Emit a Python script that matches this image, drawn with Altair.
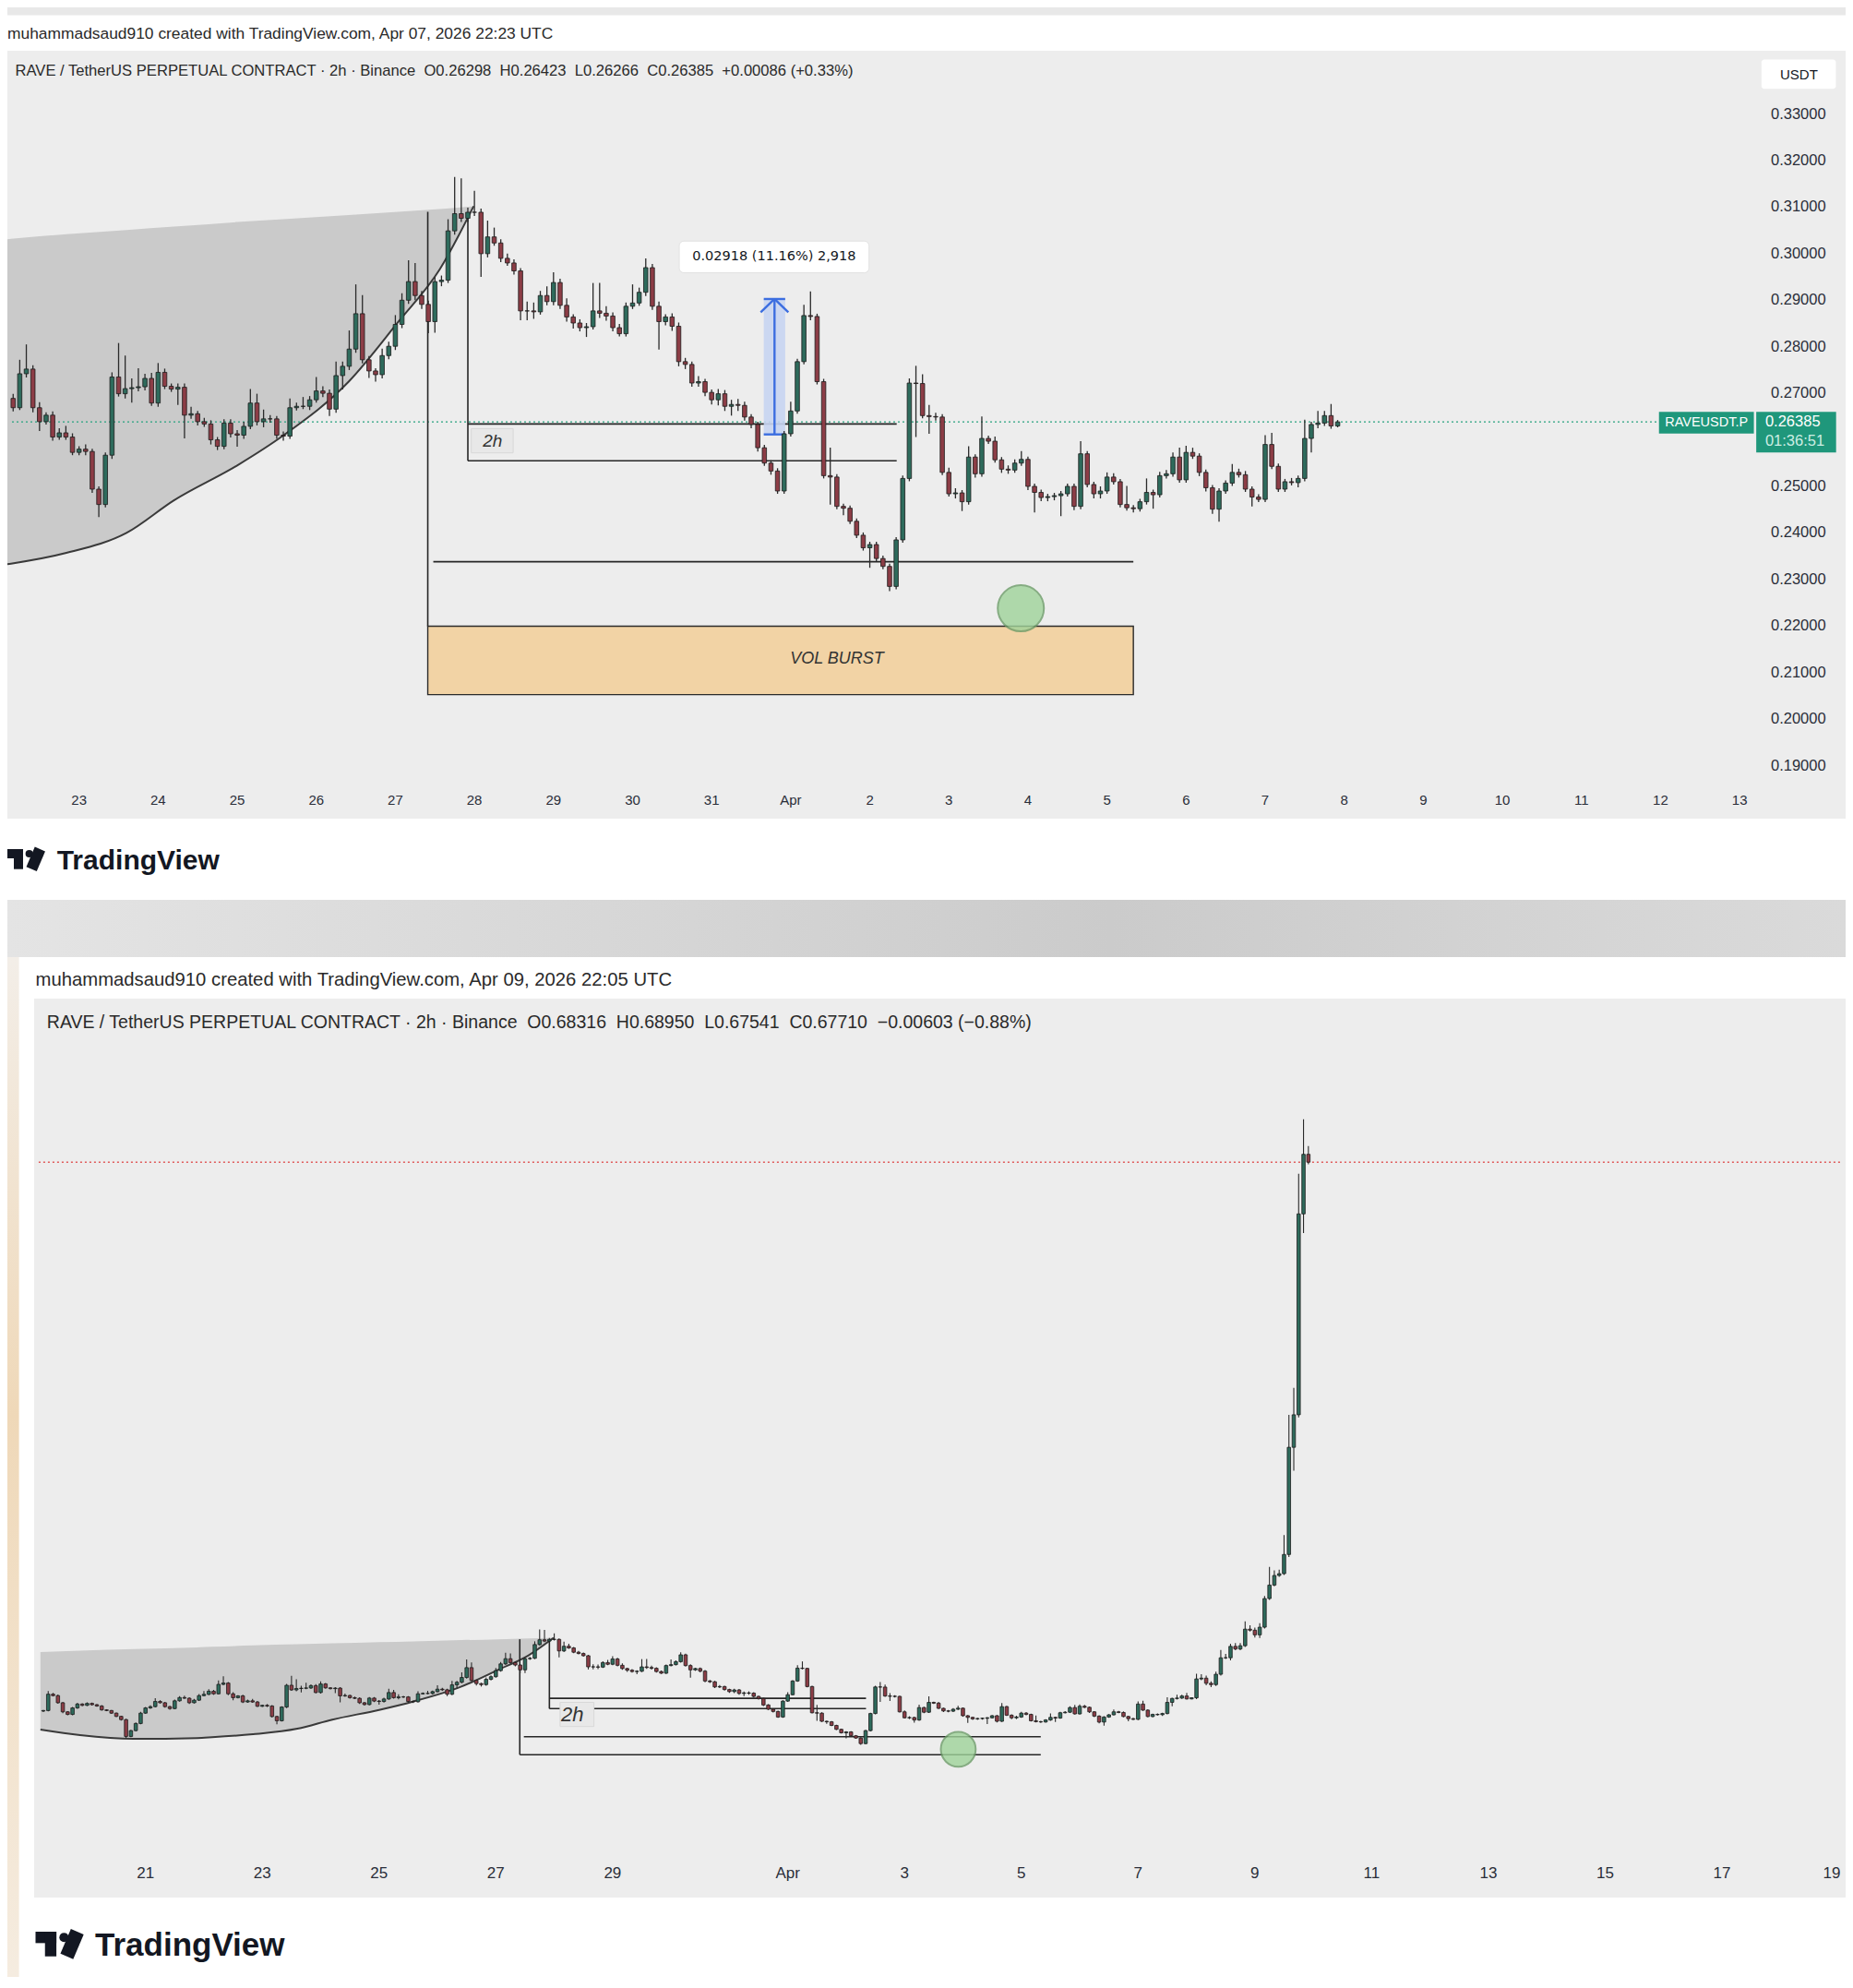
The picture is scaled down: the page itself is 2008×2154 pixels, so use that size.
import altair as alt
import pandas as pd

# page is 2008 x 2154 with an 8px body margin on every side
W, H = 1992, 2134

# ---------------- candle data (x = day of March, Apr 1 = 32; 2h bars, UTC) ----------------
START_T = 19.25          # first bar: Mar 19 06:00
STEP_T = 1.0 / 12.0
FIRST_OPEN = 0.2536

EARLY_CLOSE = [
    0.2540, 0.2666, 0.2655, 0.2600, 0.2530, 0.2510, 0.2560, 0.2590, 0.2580, 0.2595,
    0.2585, 0.2575, 0.2545, 0.2540, 0.2520, 0.2495, 0.2470, 0.2340, 0.2385, 0.2440,
    0.2520, 0.2560, 0.2570, 0.2610, 0.2600, 0.2570, 0.2555, 0.2615, 0.2640, 0.2635,
    0.2600, 0.2620, 0.2655, 0.2665, 0.2689]
EARLY_UP = [
    5, 25, 10, 8, 6, 6, 8, 10, 6, 8,
    6, 6, 6, 5, 5, 5, 5, 6, 6, 8,
    10, 8, 10, 25, 10, 6, 6, 10, 12, 15,
    8, 10, 12, 25, 15]
EARLY_DN = [
    8, 6, 6, 8, 10, 6, 6, 6, 8, 6,
    6, 6, 6, 5, 6, 6, 8, 15, 6, 6,
    6, 6, 6, 6, 6, 8, 8, 6, 6, 6,
    10, 6, 6, 6, 6]

MAIN_CLOSE = [
    0.2669, 0.2742, 0.2752, 0.2669, 0.2639, 0.2653, 0.2606, 0.2615, 0.2606, 0.2573,
    0.2580, 0.2575, 0.2494, 0.2461, 0.2567, 0.2735, 0.2699, 0.2710, 0.2712, 0.2714,
    0.2732, 0.2679, 0.2745, 0.2715, 0.2709, 0.2713, 0.2653, 0.2656, 0.2639, 0.2634,
    0.2600, 0.2586, 0.2636, 0.2613, 0.2610, 0.2629, 0.2679, 0.2639, 0.2645, 0.2645,
    0.2610, 0.2608, 0.2669, 0.2672, 0.2672, 0.2686, 0.2705, 0.2700, 0.2666, 0.2738,
    0.2758, 0.2795, 0.2871, 0.2772, 0.2748, 0.2740, 0.2781, 0.2801, 0.2848, 0.2900,
    0.2940, 0.2910, 0.2891, 0.2854, 0.2940, 0.2943, 0.3049, 0.3086, 0.3076, 0.3089,
    0.3089, 0.3000, 0.3036, 0.3023, 0.2990, 0.2980, 0.2963, 0.2877, 0.2877, 0.2875,
    0.2910, 0.2897, 0.2938, 0.2889, 0.2864, 0.2851, 0.2841, 0.2843, 0.2877, 0.2872,
    0.2866, 0.2841, 0.2828, 0.2887, 0.2894, 0.2917, 0.2970, 0.2887, 0.2854, 0.2864,
    0.2844, 0.2768, 0.2762, 0.2722, 0.2725, 0.2702, 0.2686, 0.2699, 0.2672, 0.2676,
    0.2674, 0.2649, 0.2633, 0.2583, 0.2550, 0.2533, 0.2490, 0.2613, 0.2662, 0.2768,
    0.2867, 0.2865, 0.2725, 0.2523, 0.2520, 0.2457, 0.2453, 0.2425, 0.2395, 0.2368,
    0.2375, 0.2345, 0.2328, 0.2285, 0.2385, 0.2517, 0.2722, 0.2721, 0.2652, 0.2650,
    0.2649, 0.2530, 0.2484, 0.2486, 0.2467, 0.2563, 0.2527, 0.2603, 0.2597, 0.2557,
    0.2537, 0.2535, 0.2550, 0.2558, 0.2500, 0.2487, 0.2476, 0.2478, 0.2480, 0.2484,
    0.2500, 0.2457, 0.2570, 0.2504, 0.2484, 0.2490, 0.2520, 0.2510, 0.2461, 0.2454,
    0.2452, 0.2467, 0.2487, 0.2482, 0.2523, 0.2527, 0.2563, 0.2514, 0.2573, 0.2565,
    0.2530, 0.2497, 0.2451, 0.2490, 0.2507, 0.2530, 0.2525, 0.2494, 0.2477, 0.2472,
    0.2590, 0.2543, 0.2494, 0.2510, 0.2508, 0.2517, 0.2603, 0.2633, 0.2636, 0.2652,
    0.26298, 0.26385]
MAIN_UP = [
    10, 30, 53, 8, 12, 6, 8, 10, 15, 8,
    6, 10, 6, 6, 6, 10, 73, 71, 20, 40,
    10, 12, 20, 8, 6, 8, 8, 15, 6, 8,
    8, 6, 8, 8, 8, 10, 30, 20, 20, 8,
    6, 8, 20, 8, 20, 8, 30, 10, 8, 30,
    10, 40, 63, 40, 8, 6, 15, 10, 20, 15,
    46, 40, 10, 8, 10, 10, 25, 79, 76, 10,
    46, 8, 35, 20, 8, 10, 8, 6, 20, 18,
    10, 20, 22, 8, 15, 6, 8, 8, 60, 60,
    15, 8, 8, 8, 40, 10, 20, 8, 10, 6,
    8, 8, 8, 6, 12, 6, 6, 10, 8, 10,
    12, 8, 6, 6, 6, 6, 6, 6, 20, 6,
    23, 52, 6, 6, 60, 6, 6, 6, 6, 6,
    6, 6, 6, 6, 6, 6, 10, 37, 20, 23,
    8, 6, 10, 10, 6, 23, 6, 47, 6, 10,
    6, 8, 8, 18, 6, 6, 6, 6, 6, 6,
    6, 6, 27, 6, 6, 10, 10, 8, 6, 40,
    6, 6, 30, 6, 8, 8, 10, 20, 14, 10,
    6, 6, 6, 6, 6, 18, 8, 8, 6, 6,
    20, 25, 6, 6, 8, 6, 40, 6, 26, 10,
    25, 4]
MAIN_DN = [
    8, 5, 8, 10, 20, 6, 8, 6, 6, 6,
    6, 8, 8, 27, 6, 8, 6, 10, 30, 8,
    8, 6, 8, 6, 6, 34, 50, 8, 8, 6,
    10, 8, 6, 8, 25, 8, 6, 8, 12, 8,
    8, 10, 6, 6, 6, 8, 6, 8, 15, 8,
    30, 8, 8, 8, 15, 15, 8, 8, 8, 8,
    8, 10, 10, 25, 24, 10, 6, 8, 8, 8,
    8, 50, 8, 6, 8, 6, 8, 20, 20, 15,
    6, 8, 8, 8, 10, 12, 8, 20, 6, 10,
    10, 8, 6, 6, 6, 6, 8, 8, 60, 8,
    10, 10, 10, 8, 8, 8, 10, 12, 10, 20,
    12, 8, 8, 8, 6, 8, 6, 6, 6, 6,
    6, 8, 6, 6, 59, 6, 15, 6, 6, 6,
    43, 6, 6, 10, 6, 6, 6, 115, 6, 37,
    8, 6, 6, 10, 20, 6, 8, 6, 6, 6,
    8, 8, 6, 6, 8, 43, 8, 8, 8, 44,
    6, 8, 6, 6, 10, 10, 6, 6, 6, 6,
    8, 6, 6, 30, 6, 6, 6, 6, 6, 6,
    8, 8, 10, 27, 6, 6, 6, 6, 20, 6,
    6, 6, 6, 6, 6, 10, 6, 30, 8, 6,
    6, 3]

LATE_CLOSE = [
    0.2784, 0.2790, 0.2750, 0.2740, 0.2820, 0.2947, 0.2947, 0.3035, 0.3015, 0.3040,
    0.3168, 0.3160, 0.3124, 0.3183, 0.3404, 0.3508, 0.3582, 0.3596, 0.3744, 0.4571,
    0.4822, 0.6372, 0.68316, 0.67710]
LATE_UP = [
    40, 30, 20, 15, 20, 60, 30, 20, 25, 20,
    60, 30, 20, 30, 20, 140, 40, 30, 150, 251,
    207, 310, 270, 63]
LATE_DN = [
    10, 10, 15, 20, 10, 10, 10, 20, 10, 10,
    10, 10, 20, 25, 10, 10, 10, 10, 10, 20,
    181, 20, 147, 17]

closes = EARLY_CLOSE + MAIN_CLOSE + LATE_CLOSE
ups = EARLY_UP + MAIN_UP + LATE_UP
dns = EARLY_DN + MAIN_DN + LATE_DN
recs = []
prev = FIRST_OPEN
for k, (c, u, d) in enumerate(zip(closes, ups, dns)):
    o = prev
    recs.append({"t": START_T + k * STEP_T, "o": o, "c": c,
                 "h": max(o, c) + u / 10000.0, "l": min(o, c) - d / 10000.0})
    prev = c
candles = pd.DataFrame(recs)
n0 = len(EARLY_CLOSE)
top_c = candles.iloc[n0:n0 + len(MAIN_CLOSE)].reset_index(drop=True)

# ---------------- drawings ----------------
BOWL_T = [19.20, 19.88, 20.80, 21.88, 22.14, 22.84, 23.60, 24.20, 25.00, 25.58, 26.41, 27.035, 27.56, 27.99]
BOWL_LO = [0.2393, 0.2350, 0.2322, 0.2328, 0.2334, 0.2357, 0.2400, 0.2470, 0.2545, 0.2609, 0.2725, 0.2853, 0.2966, 0.3102]
BOWL_HI = [0.2992, 0.3002, 0.3014, 0.3027, 0.3032, 0.3042, 0.3051, 0.3058, 0.3068, 0.3074, 0.3083, 0.3090, 0.3096, 0.3102]
bowl = pd.DataFrame({"t": BOWL_T, "lo": BOWL_LO, "hi": BOWL_HI})

LINE_T1 = [27.41, 27.48, 27.917, 27.917, 27.917]
LINE_T2 = [27.41, 36.333, 27.917, 33.34, 33.34]
LINE_P1 = [0.3090, 0.2338, 0.3082, 0.2634, 0.2555]
LINE_P2 = [0.21995, 0.2338, 0.2555, 0.2634, 0.2555]
lines = pd.DataFrame({"t1": LINE_T1, "t2": LINE_T2, "p1": LINE_P1, "p2": LINE_P2})
lines_bot = pd.DataFrame({"t1": LINE_T1 + [27.41], "t2": LINE_T2 + [36.333],
                          "p1": LINE_P1 + [0.21995], "p2": LINE_P2 + [0.21995]})

VOL_BOX = {"t1": [27.41], "t2": [36.333], "p1": [0.20524], "p2": [0.21995]}
VOL_LABEL = {"t": [32.585], "p": [0.2129], "s": ["VOL BURST"]}

MEAS_SHADE = {"t1": [31.659], "t2": [31.930], "p1": [0.26116], "p2": [0.29026]}
MEAS_T1 = [31.795, 31.659, 31.659, 31.795, 31.795]
MEAS_T2 = [31.795, 31.930, 31.930, 31.620, 31.970]
MEAS_P1 = [0.26116, 0.29026, 0.26116, 0.29026, 0.29026]
MEAS_P2 = [0.29026, 0.29026, 0.26116, 0.28740, 0.28740]
MEAS_BOX = {"t1": [30.59], "t2": [32.99], "p1": [0.2959], "p2": [0.3027]}
MEAS_LABEL = {"t": [31.79], "p": [0.2993], "s": ["0.02918 (11.16%) 2,918"]}

CIRCLE_TOP = {"t": [34.91], "p": [0.2238]}
CIRCLE_BOT = {"t": [34.92], "p": [0.2241]}

LAST_PRICE_TOP = 0.26385
LAST_PRICE_BOT = 0.67710

TOP_DAY_TICKS = [23, 24, 25, 26, 27, 28, 29, 30, 31, 32, 33, 34, 35, 36, 37, 38, 39, 40, 41, 42, 43, 44]
TOP_DAY_LABELS = ["23", "24", "25", "26", "27", "28", "29", "30", "31", "Apr", "2", "3", "4", "5", "6",
                  "7", "8", "9", "10", "11", "12", "13"]
BOT_DAY_TICKS = [21, 23, 25, 27, 29, 32, 34, 36, 38, 40, 42, 44, 46, 48]
BOT_DAY_LABELS = ["21", "23", "25", "27", "29", "Apr", "3", "5", "7", "9", "11", "13", "15", "17"]
BOT_EDGE_TICK = [50]
BOT_EDGE_LABEL = ["19"]
TOP_PRICE_TICKS = [0.19, 0.20, 0.21, 0.22, 0.23, 0.24, 0.25, 0.27, 0.28, 0.29, 0.30, 0.31, 0.32, 0.33]
TOP_PRICE_LABELS = ["0.19000", "0.20000", "0.21000", "0.22000", "0.23000", "0.24000", "0.25000",
                    "0.27000", "0.28000", "0.29000", "0.30000", "0.31000", "0.32000", "0.33000"]

SP = "\u00a0\u00a0"
TOP_CREDIT = "muhammadsaud910 created with TradingView.com, Apr 07, 2026 22:23 UTC"
BOT_CREDIT = "muhammadsaud910 created with TradingView.com, Apr 09, 2026 22:05 UTC"
TOP_HEADER = ("RAVE / TetherUS PERPETUAL CONTRACT · 2h · Binance" + SP + "O0.26298" + SP + "H0.26423" + SP
              + "L0.26266" + SP + "C0.26385" + SP + "+0.00086 (+0.33%)")
BOT_HEADER = ("RAVE / TetherUS PERPETUAL CONTRACT · 2h · Binance" + SP + "O0.68316" + SP + "H0.68950" + SP
              + "L0.67541" + SP + "C0.67710" + SP + "\u22120.00603 (\u22120.88%)")

# ---------------- styles / scales ----------------
GREEN = "#2e6b5c"
RED = "#8c3d46"
OUTLINE = "#1c1c1c"
WICK = "#2a2a2a"
PANEL = "#ededed"
INK = "#131722"
AXIS_INK = "#2a2e39"
TEAL = "#1f977b"
FONT = "Liberation Sans"

XS_TOP = alt.Scale(domain=[22.152, 45.282], range=[0, W], zero=False, nice=False)
YS_TOP = alt.Scale(domain=[0.1786, 0.3436], range=[879, 47], zero=False, nice=False)
XS_BOT = alt.Scale(domain=[18.713, 50.039], range=[0, W], zero=False, nice=False)
YS_BOT = alt.Scale(domain=[0.1097, 0.8033], range=[2048, 1074], zero=False, nice=False)

one = pd.DataFrame({"z": [0]})


def vrect(x, x2, y, y2, **kw):
    return alt.Chart(one).mark_rect(**kw).encode(
        x=alt.value(x), x2=alt.value(x2), y=alt.value(y), y2=alt.value(y2))


def vtext(x, y, s, **kw):
    return alt.Chart(one).mark_text(text=s, **kw).encode(x=alt.value(x), y=alt.value(y))


def logo(x0, y0, s, tx, ty, fs):
    return [
        vrect(x0, x0 + 18.3 * s, y0, y0 + 10 * s, color=INK),
        vrect(x0 + 8.3 * s, x0 + 18.3 * s, y0, y0 + 21.7 * s, color=INK),
        alt.Chart(one).mark_circle(color=INK, opacity=1, size=3.1416 * (4.6 * s) ** 2).encode(
            x=alt.value(x0 + 25 * s), y=alt.value(y0 + 5 * s)),
        alt.Chart(one).mark_rule(color=INK, strokeWidth=12.2 * s, strokeCap="butt").encode(
            x=alt.value(x0 + 36.65 * s), y=alt.value(y0), x2=alt.value(x0 + 27.45 * s), y2=alt.value(y0 + 21.7 * s)),
        vtext(tx, ty, "TradingView", font=FONT, fontWeight="bold", fontSize=fs, color=INK,
              align="left", baseline="alphabetic"),
    ]


band_grad = alt.LinearGradient(gradient="linear", x1=0, x2=1, y1=0, y2=0, stops=[
    alt.GradientStop(color="#e4e4e4", offset=0), alt.GradientStop(color="#d6d6d6", offset=0.35),
    alt.GradientStop(color="#cbcbcb", offset=0.6), alt.GradientStop(color="#dadada", offset=1)])
beige_grad = alt.LinearGradient(gradient="linear", x1=0, x2=0, y1=0, y2=1, stops=[
    alt.GradientStop(color="#f3eee8", offset=0), alt.GradientStop(color="#efd8b8", offset=0.45),
    alt.GradientStop(color="#f5ece0", offset=1)])

decor = [
    vrect(0, W, 0, 8.5, color="#e8e8e8"),
    vrect(0, W, 47, 879, color=PANEL),
    vrect(0, W, 967, 1029, fill=band_grad),
    vrect(0, 12.6, 1029, H, fill=beige_grad),
    vrect(29, W, 1074, 2048, color=PANEL),
    vtext(0, 29, TOP_CREDIT, font=FONT, fontSize=17.4, color="#2a2a2a", align="left", baseline="middle"),
    vtext(8.5, 69, TOP_HEADER, font=FONT, fontSize=16.6, color="#2a2a2a", align="left", baseline="middle"),
    vtext(30.5, 1053.7, BOT_CREDIT, font=FONT, fontSize=20.3, color="#2a2a2a", align="left", baseline="middle"),
    vtext(42.8, 1100.4, BOT_HEADER, font=FONT, fontSize=19.5, color="#2a2a2a", align="left", baseline="middle"),
] + logo(-1.3, 912, 1.0, 53.7, 933.7, 30) + logo(30.5, 2085, 1.235, 95, 2111.3, 35)


def panel_layers(xs, ys, cdf, body, wick_w, circle, circle_size, lines_df,
                 price, price_color, price_t1, price_t2, label2h, fs2h):
    XA = lambda f: alt.X(f, type="quantitative", scale=xs, axis=None)
    YA = lambda f: alt.Y(f, type="quantitative", scale=ys, axis=None)
    layers = []
    layers.append(alt.Chart(bowl).mark_area(color="#cacaca", opacity=1, interpolate="monotone").encode(
        x=XA("t"), y=YA("lo"), y2="hi"))
    layers.append(alt.Chart(bowl).mark_line(color="#3a3a3a", strokeWidth=2, interpolate="monotone").encode(
        x=XA("t"), y=YA("lo")))
    layers.append(alt.Chart(pd.DataFrame({"t1": [price_t1], "t2": [price_t2], "p": [price]}))
                  .mark_rule(color=price_color, strokeWidth=1.4, strokeDash=[2, 3]).encode(
        x=XA("t1"), x2="t2", y=YA("p")))
    layers.append(alt.Chart(lines_df).mark_rule(color="#262626", strokeWidth=1.6).encode(
        x=XA("t1"), x2="t2", y=YA("p1"), y2="p2"))
    layers.append(alt.Chart(pd.DataFrame(label2h["box"])).mark_rect(
        fill="#e8e8e8", stroke="#d8d8d8", strokeWidth=1).encode(
        x=XA("t1"), x2="t2", y=YA("p1"), y2="p2"))
    layers.append(alt.Chart(pd.DataFrame(label2h["text"])).mark_text(
        font=FONT, fontStyle="italic", fontSize=fs2h, color="#333333").encode(
        x=XA("t"), y=YA("p"), text="s:N"))
    layers.append(alt.Chart(pd.DataFrame(circle)).mark_circle(
        size=circle_size, color="#9fd39a", opacity=0.8, stroke="#6c9c68", strokeWidth=2).encode(
        x=XA("t"), y=YA("p")))
    layers.append(alt.Chart(cdf).mark_rule(color=WICK, strokeWidth=wick_w).encode(
        x=XA("t"), y=YA("l"), y2="h"))
    layers.append(alt.Chart(cdf).mark_bar(size=body, stroke=OUTLINE, strokeWidth=0.8).encode(
        x=XA("t"), y=YA("o"), y2="c",
        fill=alt.condition("datum.c >= datum.o", alt.value(GREEN), alt.value(RED))))
    return layers, XA, YA


top_2h = {"box": {"t1": [27.96], "t2": [28.49], "p1": [0.2572], "p2": [0.2624]},
          "text": {"t": [28.23], "p": [0.2597], "s": ["2h"]}}
bot_2h = {"box": {"t1": [28.10], "t2": [28.68], "p1": [0.2417], "p2": [0.2603]},
          "text": {"t": [28.31], "p": [0.2510], "s": ["2h"]}}

top_layers, XT, YT = panel_layers(XS_TOP, YS_TOP, top_c, 4.6, 1.3,
                                  CIRCLE_TOP, 2500, lines, LAST_PRICE_TOP, "#26a17f", 22.152, 43.0,
                                  top_2h, 19)
bot_layers, XB, YB = panel_layers(XS_BOT, YS_BOT, candles, 3.6, 1.1,
                                  CIRCLE_BOT, 1425, lines_bot, LAST_PRICE_BOT, "#e05a5a", 19.17, 50.039,
                                  bot_2h, 22)

# time and price scale labels, placed through the panel scales
top_axes = [
    alt.Chart(pd.DataFrame({"t": TOP_DAY_TICKS, "s": TOP_DAY_LABELS})).mark_text(
        font=FONT, fontSize=15, color=AXIS_INK, baseline="middle").encode(
        x=XT("t"), y=alt.value(858.7), text="s:N"),
    alt.Chart(pd.DataFrame({"p": TOP_PRICE_TICKS, "s": TOP_PRICE_LABELS})).mark_text(
        font=FONT, fontSize=16.5, color=AXIS_INK, align="left", baseline="middle").encode(
        x=alt.value(1911), y=YT("p"), text="s:N"),
]
bot_axes = [
    alt.Chart(pd.DataFrame({"t": BOT_DAY_TICKS, "s": BOT_DAY_LABELS})).mark_text(
        font=FONT, fontSize=17, color=AXIS_INK, baseline="middle").encode(
        x=XB("t"), y=alt.value(2022), text="s:N"),
    alt.Chart(pd.DataFrame({"t": BOT_EDGE_TICK, "s": BOT_EDGE_LABEL})).mark_text(
        font=FONT, fontSize=17, color=AXIS_INK, baseline="middle", align="right", dx=2).encode(
        x=XB("t"), y=alt.value(2022), text="s:N"),
]

# extra top-panel drawings
top_extra = [
    alt.Chart(pd.DataFrame(VOL_BOX)).mark_rect(fill="#f2d3a5", stroke="#2b2b2b", strokeWidth=1.4).encode(
        x=XT("t1"), x2="t2", y=YT("p1"), y2="p2"),
    alt.Chart(pd.DataFrame(VOL_LABEL)).mark_text(font=FONT, fontStyle="italic", fontSize=18, color="#333333").encode(
        x=XT("t"), y=YT("p"), text="s:N"),
    alt.Chart(pd.DataFrame(MEAS_SHADE)).mark_rect(fill="#c7d4f1", opacity=0.9).encode(
        x=XT("t1"), x2="t2", y=YT("p1"), y2="p2"),
    alt.Chart(pd.DataFrame({"t1": MEAS_T1, "t2": MEAS_T2, "p1": MEAS_P1, "p2": MEAS_P2}))
    .mark_rule(color="#3c6ee0", strokeWidth=2.4).encode(x=XT("t1"), x2="t2", y=YT("p1"), y2="p2"),
    alt.Chart(pd.DataFrame(MEAS_BOX)).mark_rect(fill="white", cornerRadius=5, stroke="#e2e2e2", strokeWidth=1).encode(
        x=XT("t1"), x2="t2", y=YT("p1"), y2="p2"),
    alt.Chart(pd.DataFrame(MEAS_LABEL)).mark_text(font="DejaVu Sans", fontSize=14.5, color=INK).encode(
        x=XT("t"), y=YT("p"), text="s:N"),
    # price scale labels
    alt.Chart(pd.DataFrame({"t1": [42.98, 44.21], "t2": [44.18, 45.22], "p1": [0.26136, 0.25727],
                            "p2": [0.26599, 0.26599]})).mark_rect(fill=TEAL).encode(
        x=XT("t1"), x2="t2", y=YT("p1"), y2="p2"),
    alt.Chart(pd.DataFrame({"t": [43.58], "p": [0.26367], "s": ["RAVEUSDT.P"]})).mark_text(
        font=FONT, fontSize=14.5, color="white").encode(x=XT("t"), y=YT("p"), text="s:N"),
    alt.Chart(pd.DataFrame({"t": [44.324], "p": [0.2638], "s": ["0.26385"]})).mark_text(
        font=FONT, fontSize=16.5, color="white", align="left").encode(x=XT("t"), y=YT("p"), text="s:N"),
    alt.Chart(pd.DataFrame({"t": [44.324], "p": [0.25972], "s": ["01:36:51"]})).mark_text(
        font=FONT, fontSize=16.5, color="#cdeee4", align="left").encode(x=XT("t"), y=YT("p"), text="s:N"),
    alt.Chart(pd.DataFrame({"t1": [44.276], "t2": [45.217], "p1": [0.3354], "p2": [0.3417]})).mark_rect(
        fill="white", cornerRadius=3).encode(x=XT("t1"), x2="t2", y=YT("p1"), y2="p2"),
    alt.Chart(pd.DataFrame({"t": [44.75], "p": [0.3385], "s": ["USDT"]})).mark_text(
        font=FONT, fontSize=15, color=INK).encode(x=XT("t"), y=YT("p"), text="s:N"),
]

top = alt.layer(*(top_layers[:6] + top_extra[:6] + top_layers[6:] + top_axes + top_extra[6:]))
bottom = alt.layer(*(bot_layers + bot_axes))

chart = alt.layer(*decor, top, bottom).resolve_scale(x="independent", y="independent").properties(
    width=W, height=H, padding=0, autosize=alt.AutoSizeParams(type="none"), background="white"
).configure_view(stroke=None)

chart.save("out.html", embed_options={"renderer": "svg", "actions": False})
